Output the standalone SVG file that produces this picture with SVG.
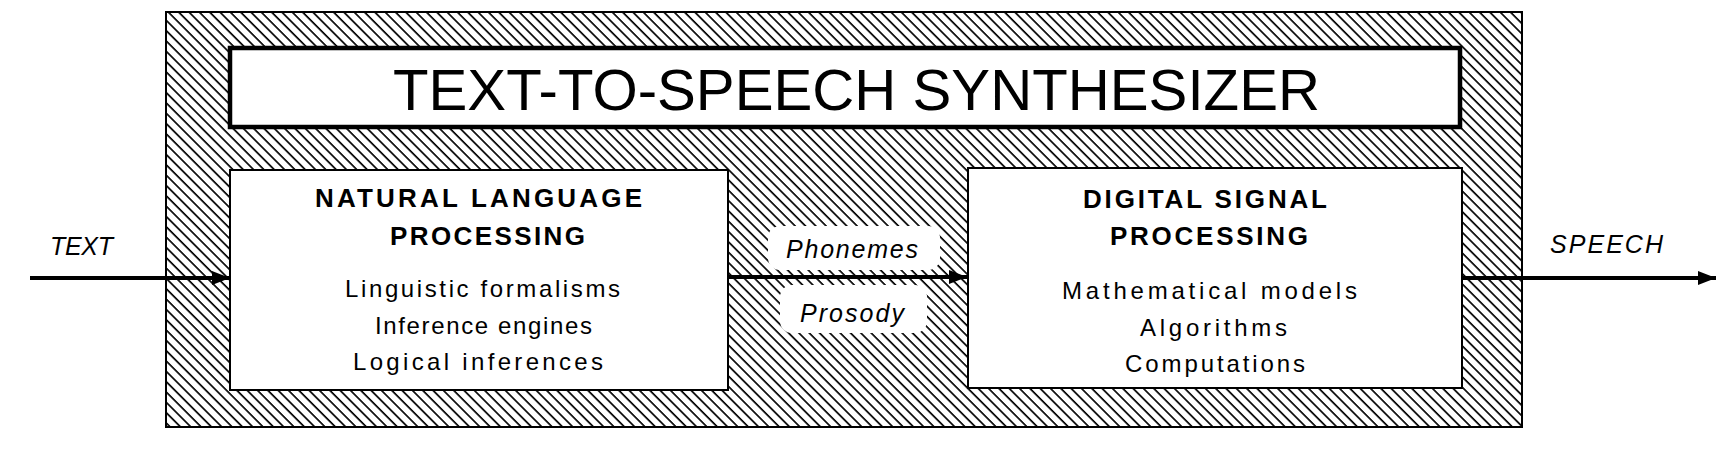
<svg xmlns="http://www.w3.org/2000/svg" width="1724" height="473" viewBox="0 0 1724 473">
<style>
  text { font-family: "Liberation Sans", Arial, sans-serif; fill: #000; }
  .title { font-size: 58px; }
  .head { font-size: 26px; font-weight: bold; }
  .body { font-size: 24px; }
  .lab { font-size: 25px; font-style: italic; }
  .box { fill: #fff; stroke: #000; stroke-width: 2; }
  .conn { stroke: #000; stroke-width: 4; fill: none; }
</style>
<defs>
  <pattern id="hatch" patternUnits="userSpaceOnUse" width="7.3" height="10" patternTransform="rotate(-45)">
    <rect width="7.3" height="10" fill="#fff"/>
    <line x1="1" y1="0" x2="1" y2="10" stroke="#000" stroke-width="1.7"/>
  </pattern>
  <marker id="arr" markerUnits="userSpaceOnUse" markerWidth="18" markerHeight="16" refX="18" refY="8" orient="auto">
    <path d="M0,1 L18,8 L0,15 z" fill="#000"/>
  </marker>
</defs>
<rect width="1724" height="473" fill="#fff"/>
<g id="synthesizer">
  <rect x="166" y="12" width="1356" height="415" fill="url(#hatch)" stroke="#000" stroke-width="2"/>
</g>
<g id="title">
  <rect x="230" y="48" width="1230" height="79" fill="#fff" stroke="#000" stroke-width="4.5"/>
  <text class="title" x="393" y="110" textLength="927" lengthAdjust="spacingAndGlyphs">TEXT-TO-SPEECH SYNTHESIZER</text>
</g>
<g id="nlp">
  <rect class="box" x="230" y="170" width="498" height="220"/>
  <text class="head" x="315" y="207" textLength="327" lengthAdjust="spacing">NATURAL LANGUAGE</text>
  <text class="head" x="390" y="245" textLength="195" lengthAdjust="spacing">PROCESSING</text>
  <text class="body" x="345" y="297" textLength="275" lengthAdjust="spacing">Linguistic formalisms</text>
  <text class="body" x="375" y="334" textLength="217" lengthAdjust="spacing">Inference engines</text>
  <text class="body" x="353" y="370" textLength="250" lengthAdjust="spacing">Logical inferences</text>
</g>
<g id="dsp">
  <rect class="box" x="968" y="168" width="494" height="220"/>
  <text class="head" x="1083" y="208" textLength="244" lengthAdjust="spacing">DIGITAL SIGNAL</text>
  <text class="head" x="1110" y="245" textLength="198" lengthAdjust="spacing">PROCESSING</text>
  <text class="body" x="1062" y="299" textLength="295" lengthAdjust="spacing">Mathematical models</text>
  <text class="body" x="1140" y="336" textLength="147" lengthAdjust="spacing">Algorithms</text>
  <text class="body" x="1125" y="372" textLength="180" lengthAdjust="spacing">Computations</text>
</g>
<g id="connectors">
  <line class="conn" x1="30" y1="278" x2="230" y2="278" marker-end="url(#arr)"/>
  <rect x="768" y="226" width="172" height="44" rx="12" fill="#fff"/>
  <rect x="780" y="285" width="147" height="48" rx="12" fill="#fff"/>
  <line class="conn" x1="728" y1="277" x2="967" y2="277" stroke-width="3.5" marker-end="url(#arr)"/>
  <line class="conn" x1="1462" y1="278" x2="1716" y2="278" marker-end="url(#arr)"/>
  <text class="lab" x="786" y="258" textLength="132" lengthAdjust="spacing">Phonemes</text>
  <text class="lab" x="800" y="322" textLength="104" lengthAdjust="spacing">Prosody</text>
</g>
<g id="io-labels">
  <text class="lab" x="50" y="255" textLength="63" lengthAdjust="spacing">TEXT</text>
  <text class="lab" x="1550" y="253" textLength="113" lengthAdjust="spacing">SPEECH</text>
</g>
</svg>
